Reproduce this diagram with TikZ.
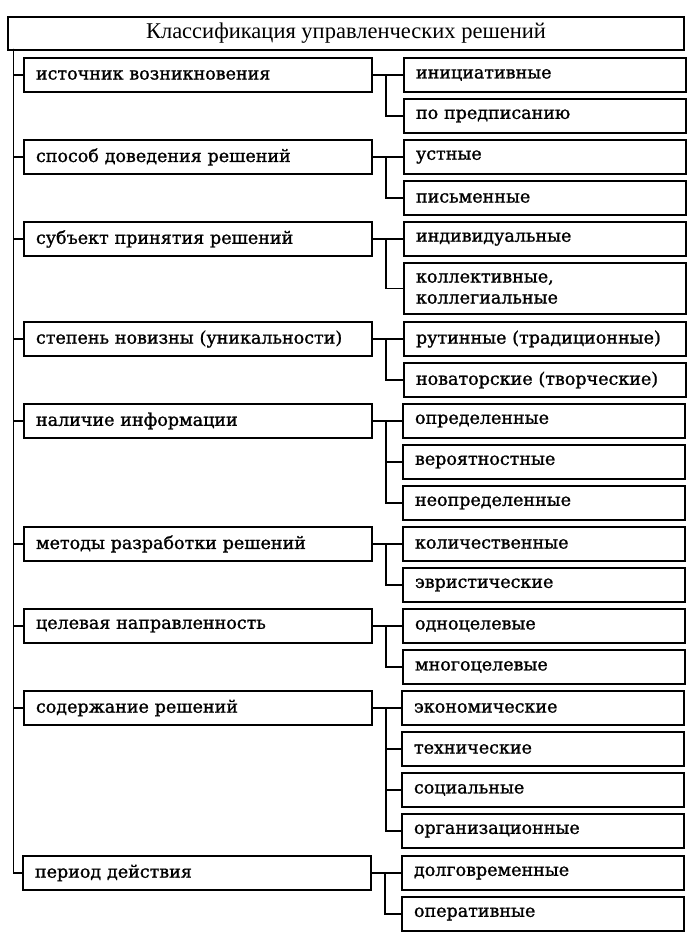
\documentclass[tikz,border=0pt]{standalone}
\usepackage{fontspec}
\setmainfont{Liberation Serif}
\newfontfamily\bodyfont{DejaVu Serif}[FakeBold=1.2]
\begin{document}
\begin{tikzpicture}[x=1pt,y=-1pt,
  box/.style={draw, line width=2pt, anchor=north west, inner xsep=12pt, inner ysep=0pt, align=left, font=\bodyfont\fontsize{17.5}{21}\selectfont},
  catbox/.style={box, text width=324pt, minimum height=34pt},
  subbox/.style={box, text width=258pt, minimum height=34pt},
  link/.style={line width=1.7pt}]
\useasboundingbox (0,0) rectangle (699,944);
\node[draw, line width=2pt, anchor=north west, minimum width=676pt, minimum height=33pt, inner sep=0pt, font=\fontsize{22.5}{24}\selectfont] (title) at (7,16) {Классификация управленческих решений};
\coordinate (trunk) at (13.5,49);
% categories
\node[catbox] (c1) at (23,57) {источник возникновения};
\node[catbox] (c2) at (23,139) {способ доведения решений};
\node[catbox] (c3) at (23,221) {субъект принятия решений};
\node[catbox] (c4) at (23,321) {степень новизны (уникальности)};
\node[catbox] (c5) at (23,403) {наличие информации};
\node[catbox] (c6) at (23,526) {методы разработки решений};
\node[catbox] (c7) at (23,608) {целевая направленность};
\node[catbox] (c8) at (23,690) {содержание решений};
\node[catbox] (c9) at (22,855) {период действия};
% subitems
\node[subbox] (s11) at (403,57) {инициативные};
\node[subbox] (s12) at (403,98) {по предписанию};
\node[subbox] (s21) at (403,139) {устные};
\node[subbox] (s22) at (403,180) {письменные};
\node[subbox] (s31) at (403,221) {индивидуальные};
\node[subbox, minimum height=51pt] (s32) at (403,262) {коллективные,\\коллегиальные};
\node[subbox] (s41) at (403,321) {рутинные (традиционные)};
\node[subbox] (s42) at (403,362) {новаторские (творческие)};
\node[subbox] (s51) at (402,403) {определенные};
\node[subbox] (s52) at (402,444) {вероятностные};
\node[subbox] (s53) at (402,485) {неопределенные};
\node[subbox] (s61) at (402,526) {количественные};
\node[subbox] (s62) at (402,567) {эвристические};
\node[subbox] (s71) at (402,608) {одноцелевые};
\node[subbox] (s72) at (402,649) {многоцелевые};
\node[subbox] (s81) at (401,690) {экономические};
\node[subbox] (s82) at (401,731) {технические};
\node[subbox] (s83) at (401,772) {социальные};
\node[subbox] (s84) at (401,813) {организационные};
\node[subbox] (s91) at (401,855) {долговременные};
\node[subbox] (s92) at (401,896) {оперативные};
% trunk
\foreach \c in {c1,c2,c3,c4,c5,c6,c7,c8,c9}
  \draw[link] (trunk) |- (\c.west);
% branches
\foreach \c/\s in {c1/s11,c1/s12,c2/s21,c2/s22,c3/s31,c3/s32,c4/s41,c4/s42,c5/s51,c5/s52,c5/s53,c6/s61,c6/s62,c7/s71,c7/s72,c8/s81,c8/s82,c8/s83,c8/s84,c9/s91,c9/s92}
  \draw[link] (\c.east) -- ++(13,0) |- (\s.west);
\end{tikzpicture}
\end{document}
